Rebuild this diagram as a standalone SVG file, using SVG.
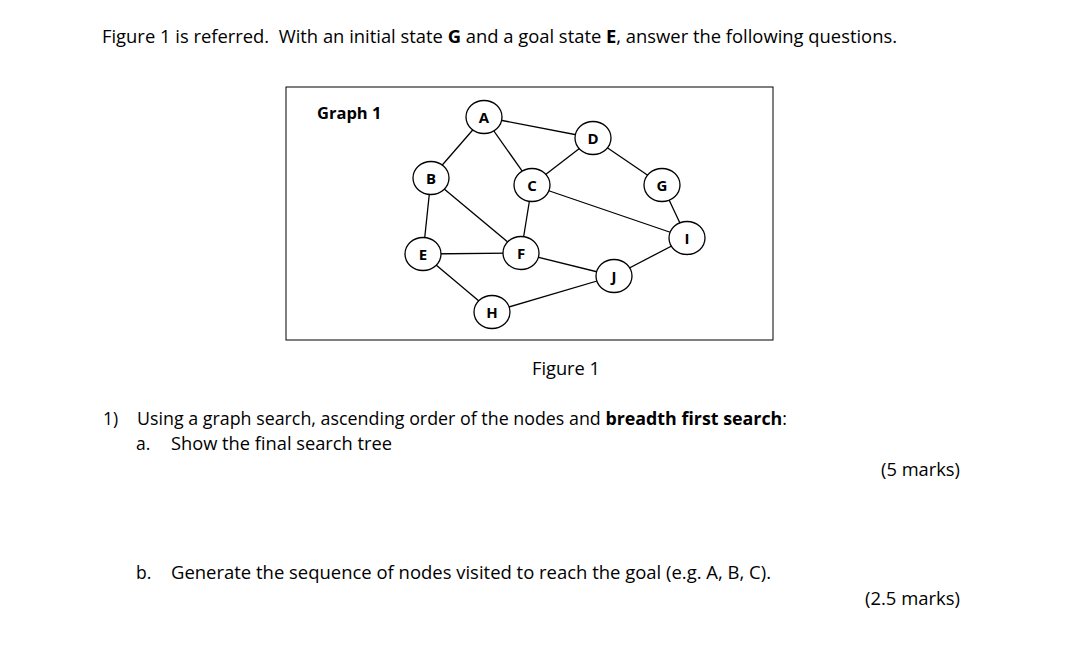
<svg xmlns="http://www.w3.org/2000/svg" width="1067" height="668" viewBox="0 0 1067 668">
<style>
text{font-family:"Open Sans","Liberation Sans",sans-serif;fill:#000}
.t{font-size:17.5px}
.n ellipse{fill:#fff;stroke:#000;stroke-width:1.3}
.n text{font-size:15px;font-weight:bold;text-anchor:middle}
#edges line{stroke:#000;stroke-width:1.3}
</style>
<rect width="1067" height="668" fill="#fff"/>
<text class="t" x="102" y="43" textLength="795" lengthAdjust="spacingAndGlyphs" xml:space="preserve">Figure 1 is referred.  With an initial state <tspan font-weight="bold">G</tspan> and a goal state <tspan font-weight="bold">E</tspan>, answer the following questions.</text>
<rect x="286" y="87" width="487" height="253" fill="none" stroke="#000" stroke-width="1"/>
<text x="317" y="119" font-size="16.5" font-weight="bold">Graph 1</text>
<g id="edges">
<line x1="484" y1="117" x2="593" y2="138"/>
<line x1="484" y1="117" x2="431" y2="178"/>
<line x1="484" y1="117" x2="532" y2="185"/>
<line x1="593" y1="138" x2="532" y2="185"/>
<line x1="593" y1="138" x2="662" y2="185"/>
<line x1="431" y1="178" x2="521" y2="253"/>
<line x1="431" y1="178" x2="423" y2="254"/>
<line x1="532" y1="185" x2="521" y2="253"/>
<line x1="532" y1="185" x2="687" y2="238"/>
<line x1="662" y1="185" x2="687" y2="238"/>
<line x1="423" y1="254" x2="521" y2="253"/>
<line x1="423" y1="254" x2="492" y2="312"/>
<line x1="521" y1="253" x2="614" y2="276"/>
<line x1="687" y1="238" x2="614" y2="276"/>
<line x1="492" y1="312" x2="614" y2="276"/>
</g>
<g id="nA" class="n"><ellipse cx="484" cy="117" rx="18" ry="16.5"/><text x="484" y="123">A</text></g>
<g id="nD" class="n"><ellipse cx="593" cy="138" rx="18" ry="16.5"/><text x="593" y="144">D</text></g>
<g id="nB" class="n"><ellipse cx="431" cy="178" rx="18" ry="16.5"/><text x="431" y="184">B</text></g>
<g id="nC" class="n"><ellipse cx="532" cy="185" rx="18" ry="16.5"/><text x="532" y="191">C</text></g>
<g id="nG" class="n"><ellipse cx="662" cy="185" rx="18" ry="16.5"/><text x="662" y="191">G</text></g>
<g id="nI" class="n"><ellipse cx="687" cy="238" rx="18" ry="16.5"/><text x="687" y="244">I</text></g>
<g id="nE" class="n"><ellipse cx="423" cy="254" rx="18" ry="16.5"/><text x="423" y="260">E</text></g>
<g id="nF" class="n"><ellipse cx="521" cy="253" rx="18" ry="16.5"/><text x="521" y="259">F</text></g>
<g id="nJ" class="n"><ellipse cx="614" cy="276" rx="18" ry="16.5"/><text x="614" y="282">J</text></g>
<g id="nH" class="n"><ellipse cx="492" cy="312" rx="18" ry="16.5"/><text x="492" y="318">H</text></g>
<text class="t" x="532" y="375" textLength="68" lengthAdjust="spacingAndGlyphs">Figure 1</text>
<text class="t" x="103" y="425">1)</text>
<text class="t" x="137" y="425" textLength="650" lengthAdjust="spacingAndGlyphs">Using a graph search, ascending order of the nodes and <tspan font-weight="bold">breadth first search</tspan>:</text>
<text class="t" x="136" y="450">a.</text>
<text class="t" x="171" y="450" textLength="221" lengthAdjust="spacingAndGlyphs">Show the final search tree</text>
<text class="t" x="881" y="476" textLength="79" lengthAdjust="spacingAndGlyphs">(5 marks)</text>
<text class="t" x="136" y="579">b.</text>
<text class="t" x="171" y="579" textLength="600" lengthAdjust="spacingAndGlyphs">Generate the sequence of nodes visited to reach the goal (e.g. A, B, C).</text>
<text class="t" x="865" y="605" textLength="95" lengthAdjust="spacingAndGlyphs">(2.5 marks)</text>
</svg>
